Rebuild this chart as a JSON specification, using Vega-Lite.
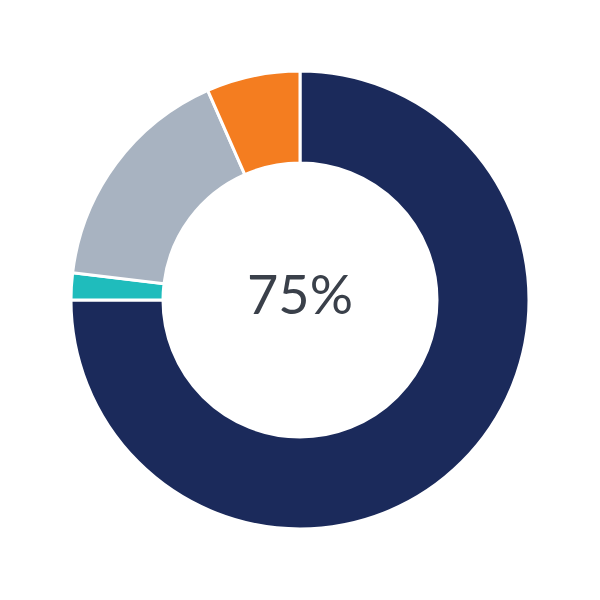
{
  "$schema": "https://vega.github.io/schema/vega-lite/v6.json",
  "width": 600,
  "height": 600,
  "padding": 0,
  "autosize": {"type": "fit", "contains": "padding"},
  "background": "white",
  "config": {"view": {"stroke": "transparent"}},
  "data": {
    "values": [
      {"category": "A", "value": 75, "order": 1},
      {"category": "B", "value": 1.9, "order": 2},
      {"category": "C", "value": 16.5, "order": 3},
      {"category": "D", "value": 6.6, "order": 4}
    ]
  },
  "layer": [
    {
      "mark": {"type": "arc", "outerRadius": 229, "innerRadius": 137, "stroke": "white", "strokeWidth": 3},
      "encoding": {
        "theta": {"field": "value", "type": "quantitative", "stack": true},
        "order": {"field": "order", "type": "quantitative"},
        "color": {
          "field": "category",
          "type": "nominal",
          "scale": {"domain": ["A", "B", "C", "D"], "range": ["#1b2a5b", "#1fbcbc", "#a8b3c1", "#f47d20"]},
          "legend": null
        }
      }
    },
    {
      "data": {"values": [{"label": "75%"}]},
      "mark": {"type": "text", "font": "Lato", "fontSize": 54, "fontWeight": 400, "color": "#3a404a", "baseline": "middle", "align": "center", "dy": -2},
      "encoding": {"text": {"field": "label", "type": "nominal"}}
    }
  ]
}
